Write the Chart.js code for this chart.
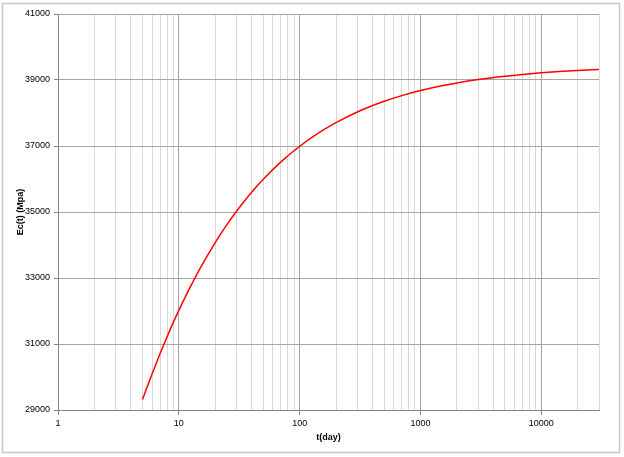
<!DOCTYPE html>
<html>
<head>
<meta charset="utf-8">
<script src="https://cdn.jsdelivr.net/npm/chart.js@4/dist/chart.umd.min.js"></script>
<style>
html,body{margin:0;padding:0;background:#fff;}
#wrap{position:relative;width:624px;height:457px;}
</style>
</head>
<body>
<div id="wrap"><canvas id="c" width="624" height="457"></canvas></div>
<script>
// Data
const tDays = [5, 6, 7, 8, 9, 10, 12, 15, 20, 25, 30, 40, 50, 70, 100, 150, 200, 300, 500, 700, 1000, 1500, 2000, 3000, 5000, 7000, 10000, 15000, 20000, 30000];
const ecValues = [29320, 30090, 30710, 31220, 31655, 32020, 32618, 33293, 34075, 34618, 35021, 35597, 35994, 36520, 36993, 37442, 37711, 38032, 38354, 38527, 38681, 38825, 38911, 39013, 39115, 39169, 39216, 39263, 39290, 39321];
const xDecadeLabels = [1, 10, 100, 1000, 10000];
const xMin = 1, xMax = 30000;
const yMin = 29000, yMax = 41000, yStep = 2000;

// log-scale tick positions: 1..9 in each decade up to xMax
const xTickValues = [];
for (let d = 1; d <= 10000; d *= 10) {
  for (let m = 1; m <= 9; m++) {
    const v = m * d;
    if (v <= xMax) xTickValues.push(v);
  }
}

const borderPlugin = {
  id: 'outerBorder',
  beforeDraw(chart) {
    const ctx = chart.ctx;
    ctx.save();
    ctx.fillStyle = '#ffffff';
    ctx.fillRect(0, 0, chart.width, chart.height);
    ctx.strokeStyle = '#c8c8c8';
    ctx.lineWidth = 1.5;
    ctx.strokeRect(2.5, 3.5, 617, 449);
    ctx.restore();
  }
};

const FONT = "'Liberation Sans', Arial, sans-serif";

new Chart(document.getElementById('c'), {
  type: 'line',
  data: {
    datasets: [{
      data: tDays.map((t, i) => ({x: t, y: ecValues[i]})),
      borderColor: '#ff0000',
      borderWidth: 1.5,
      pointRadius: 0,
      fill: false,
      cubicInterpolationMode: 'monotone'
    }]
  },
  options: {
    responsive: false,
    animation: false,
    devicePixelRatio: 1,
    layout: {padding: {left: 0, top: 14, right: 25, bottom: 0}},
    plugins: {legend: {display: false}, tooltip: {enabled: false}},
    scales: {
      x: {
        type: 'logarithmic',
        min: xMin,
        max: xMax,
        afterBuildTicks(scale) {
          scale.ticks = xTickValues.map(v => ({value: v}));
        },
        afterFit(scale) { scale.height = 47; },
        ticks: {
          autoSkip: false,
          maxRotation: 0,
          padding: 3,
          color: '#000',
          font: {family: FONT, size: 9},
          callback(value) {
            return xDecadeLabels.includes(value) ? String(value) : '';
          }
        },
        grid: {
          color(ctx) {
            const v = ctx.tick && ctx.tick.value;
            return xDecadeLabels.includes(v) ? '#a6a6a6' : '#d9d9d9';
          },
          tickColor(ctx) {
            const v = ctx.tick && ctx.tick.value;
            return xDecadeLabels.includes(v) ? '#868686' : 'rgba(0,0,0,0)';
          },
          lineWidth: 1,
          tickLength: 5,
          drawOnChartArea: true
        },
        border: {display: true, color: '#868686', width: 1},
        title: {
          display: true,
          text: 't(day)',
          color: '#000',
          font: {family: FONT, size: 9, weight: 'bold'},
          padding: {top: 0, bottom: 14}
        }
      },
      y: {
        type: 'linear',
        min: yMin,
        max: yMax,
        afterFit(scale) { scale.width = 58; },
        ticks: {
          stepSize: yStep,
          padding: 4,
          color: '#000',
          font: {family: FONT, size: 9},
          callback(value) { return String(value); }
        },
        grid: {
          color: '#a6a6a6',
          tickColor: '#868686',
          lineWidth: 1,
          tickLength: 4
        },
        border: {display: true, color: '#868686', width: 1},
        title: {
          display: true,
          text: 'Ec(t) (Mpa)',
          color: '#000',
          font: {family: FONT, size: 9, weight: 'bold'},
          padding: {top: 15, bottom: 0}
        }
      }
    }
  },
  plugins: [borderPlugin]
});
</script>
</body>
</html>
